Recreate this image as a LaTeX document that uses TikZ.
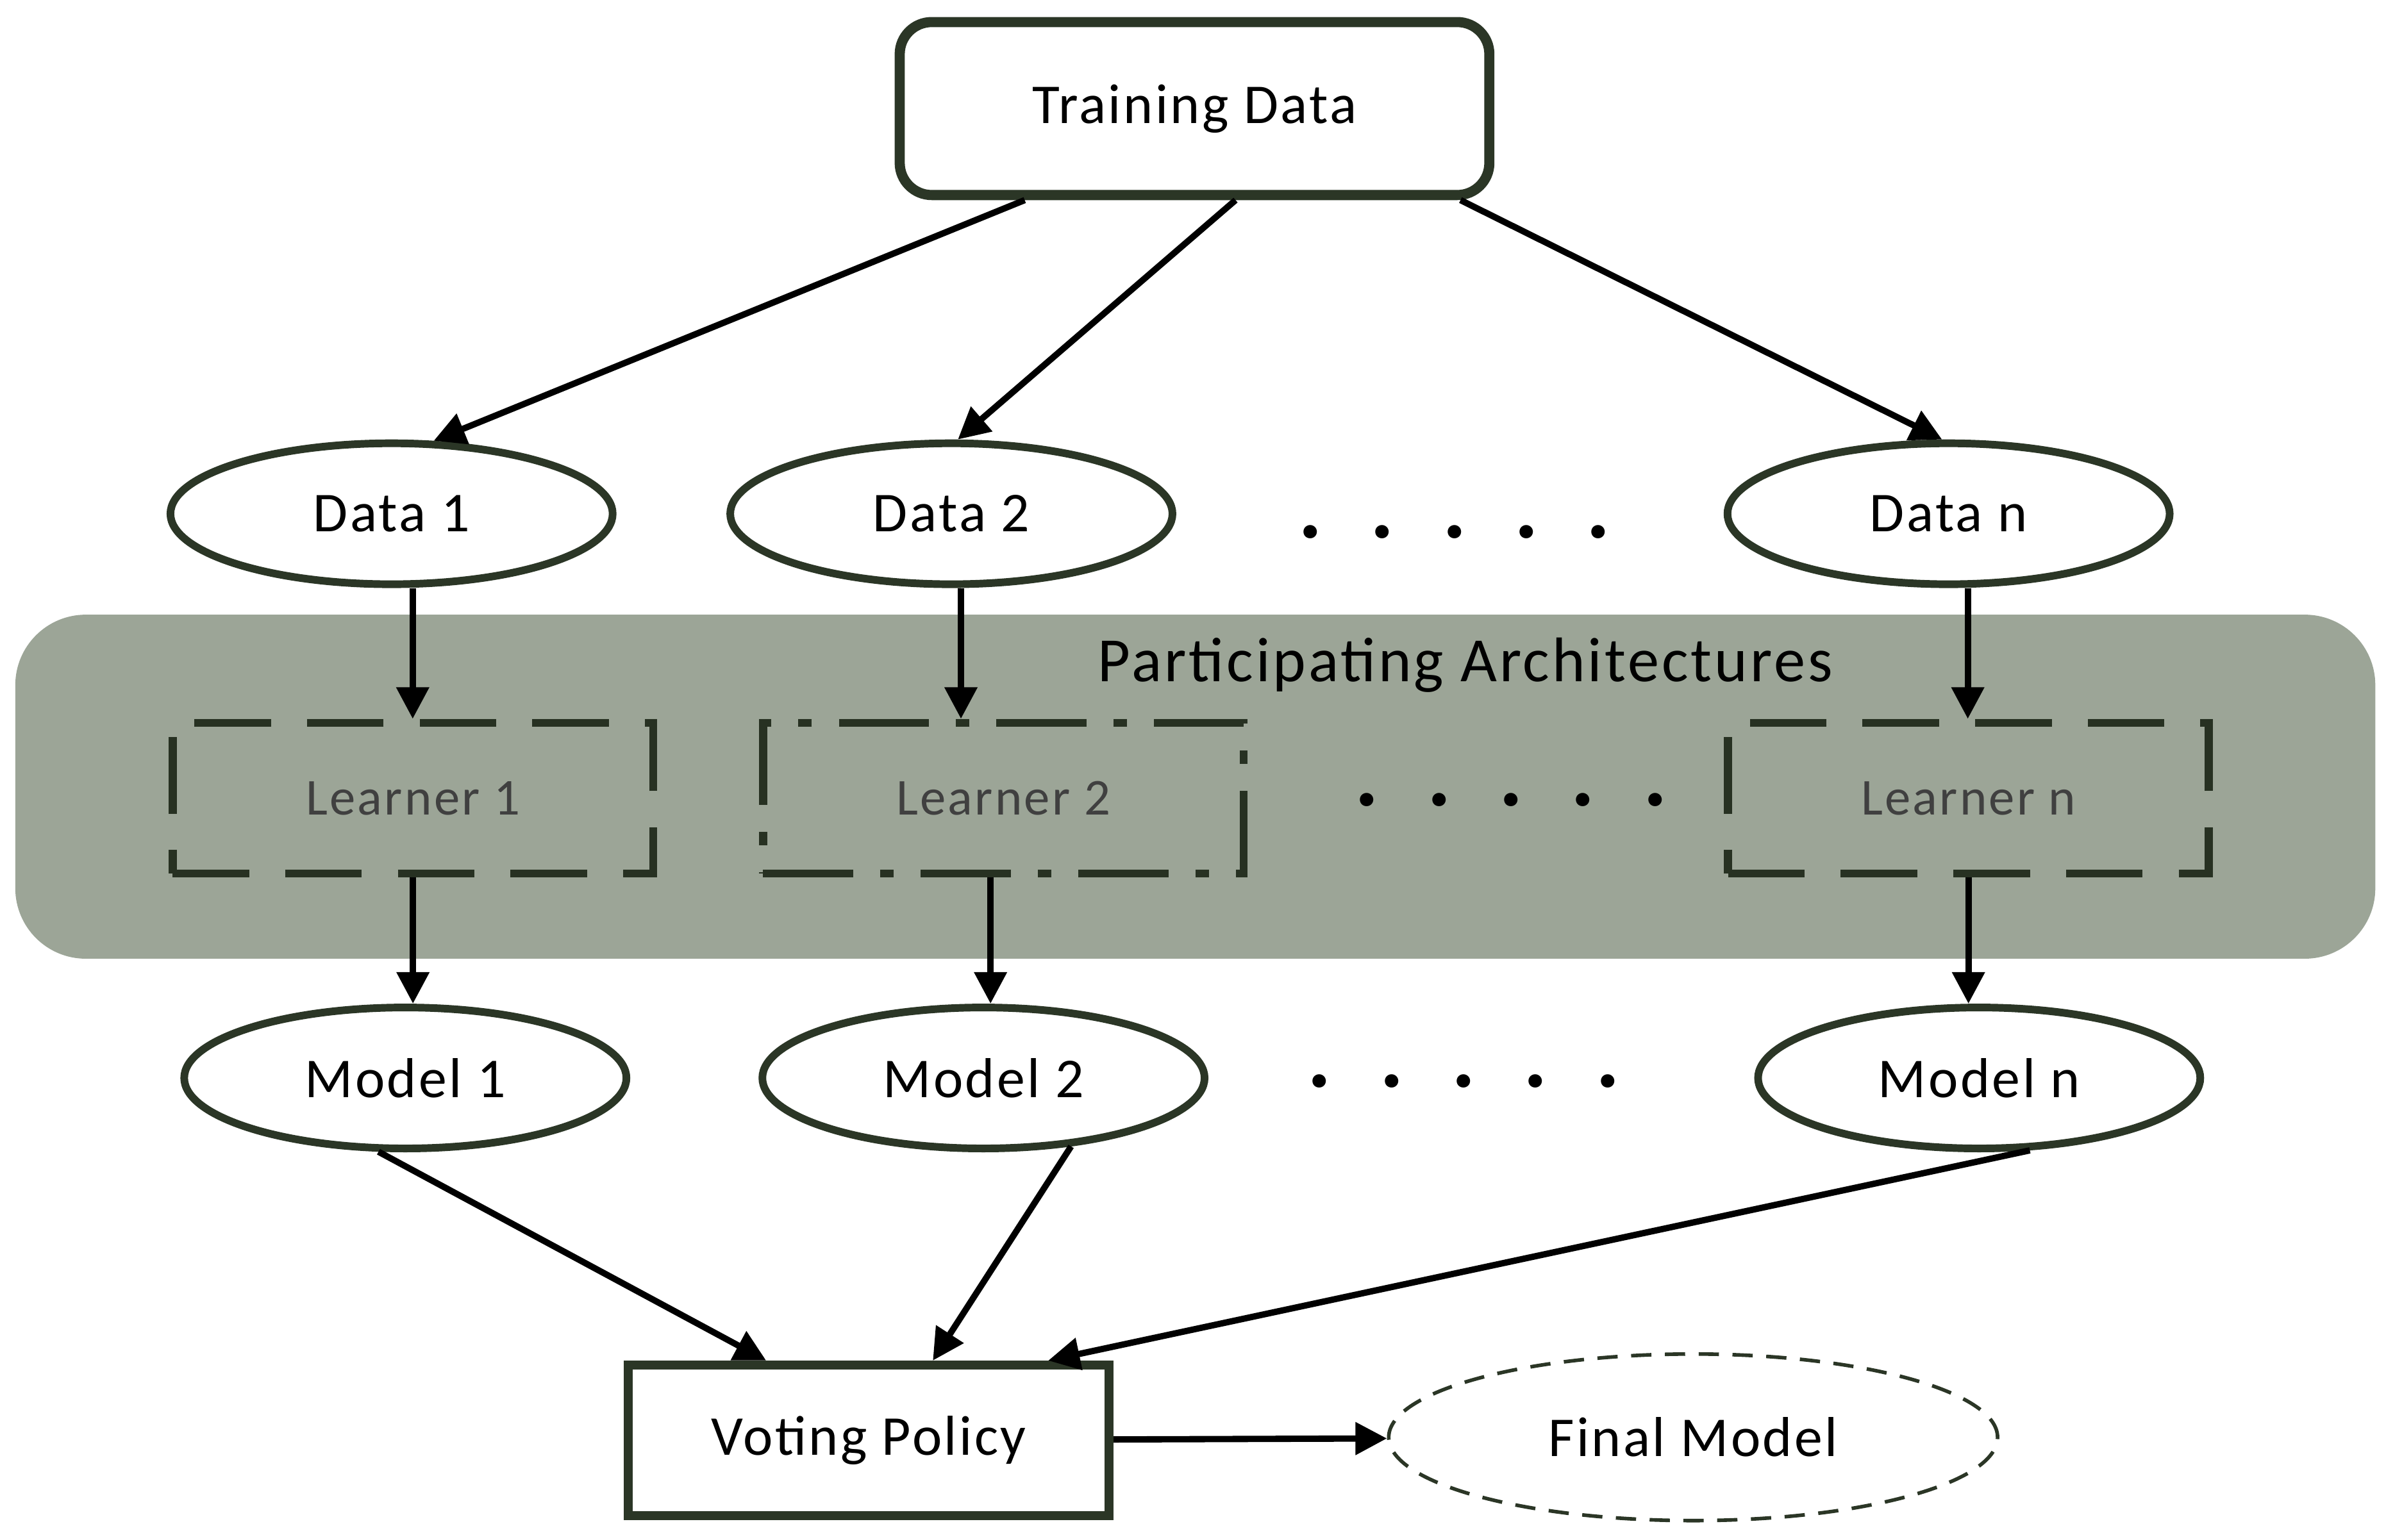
\documentclass[tikz,border=0pt]{standalone}
\usepackage{fontspec}
\setmainfont{Carlito}[LetterSpace=4]
\usetikzlibrary{arrows.meta,shapes.geometric}
\definecolor{dk}{HTML}{2B3626}
\definecolor{band}{HTML}{9CA597}
\begin{document}
\begin{tikzpicture}[x=0.02386cm,y=-0.02386cm,
 ell/.style={ellipse,draw=dk,line width=3.4pt,minimum width=6.9cm,minimum height=2.2cm,font=\fontsize{25}{28}\selectfont},
 lrn/.style={draw=dk!90!black,line width=3.6pt,minimum width=7.5cm,minimum height=2.35cm,font=\fontsize{23}{26}\selectfont,text=black!75},
 arr/.style={-{Triangle[length=14pt,width=14pt]},line width=2.8pt,draw=black},
 dots/.style={font=\fontsize{40}{40}\selectfont\bfseries}]
\useasboundingbox (0,0) rectangle (1560,1007);
\fill[band,rounded corners=1.1cm] (10,402) rectangle (1553,627);
\node[font=\fontsize{28}{30}\selectfont] (pa) at (958,435) {Participating Architectures};
\node[draw=dk,line width=4.5pt,rounded corners=0.5cm,minimum width=9.2cm,minimum height=2.7cm,font=\fontsize{25}{28}\selectfont] (td) at (781,71) {Training Data};
\node[ell] (d1) at (256,336) {Data 1};
\node[ell] (d2) at (622,336) {Data 2};
\node[ell] (dn) at (1274,336) {Data n};
\node[lrn,dash pattern=on 34pt off 16pt] (l1) at (270,522) {Learner 1};
\node[lrn,dash pattern=on 40pt off 12pt on 6pt off 12pt] (l2) at (656,522) {Learner 2};
\node[lrn,dash pattern=on 34pt off 16pt] (ln) at (1287,522) {Learner n};
\node[ell] (m1) at (265,705) {Model 1};
\node[ell] (m2) at (643,705) {Model 2};
\node[ell] (mn) at (1294,705) {Model n};
\node[draw=dk,line width=4pt,minimum width=7.5cm,minimum height=2.35cm,font=\fontsize{25}{28}\selectfont] (vp) at (568,942) {Voting Policy};
\node[ellipse,draw=dk,dashed,dash pattern=on 9pt off 6pt,line width=1.6pt,minimum width=9.5cm,minimum height=2.6cm,font=\fontsize{25}{28}\selectfont] (fm) at (1107,940) {Final Model};
\node[dots] (dt1) at (951,348) {.\ \ .\ \ .\ \ .\ \ .};
\node[dots] (dt2) at (988,523) {.\ \ .\ \ .\ \ .\ \ .};
\node[dots] (dt3) at (957,707) {.\ \ .\ \ .\ \ .\ \ .};
\draw[arr] ([xshift=-2.65cm]td.south) -- (d1.60);
\draw[arr] ([xshift=0.64cm]td.south) -- (d2.85);
\draw[arr] ([xshift=4.15cm]td.south) -- (dn.95);
\draw[arr] ([xshift=0.33cm]d1.south) -- ([xshift=0.33cm]d1.south |- l1.north);
\draw[arr] ([xshift=0.15cm]d2.south) -- ([xshift=0.15cm]d2.south |- l2.north);
\draw[arr] ([xshift=0.3cm]dn.south) -- ([xshift=0.3cm]dn.south |- ln.north);
\draw[arr] (l1.south) -- (l1.south |- m1.north);
\draw[arr] ([xshift=-0.2cm]l2.south) -- ([xshift=-0.2cm]l2.south |- m2.north);
\draw[arr] (ln.south) -- (ln.south |- mn.north);
\draw[arr] (m1.-110) -- ([xshift=-1.6cm]vp.north);
\draw[arr] (m2.-38) -- ([xshift=1cm]vp.north);
\draw[arr] (mn.-55) -- ([xshift=2.8cm]vp.north);
\draw[arr] (vp) -- (fm);
\end{tikzpicture}
\end{document}
